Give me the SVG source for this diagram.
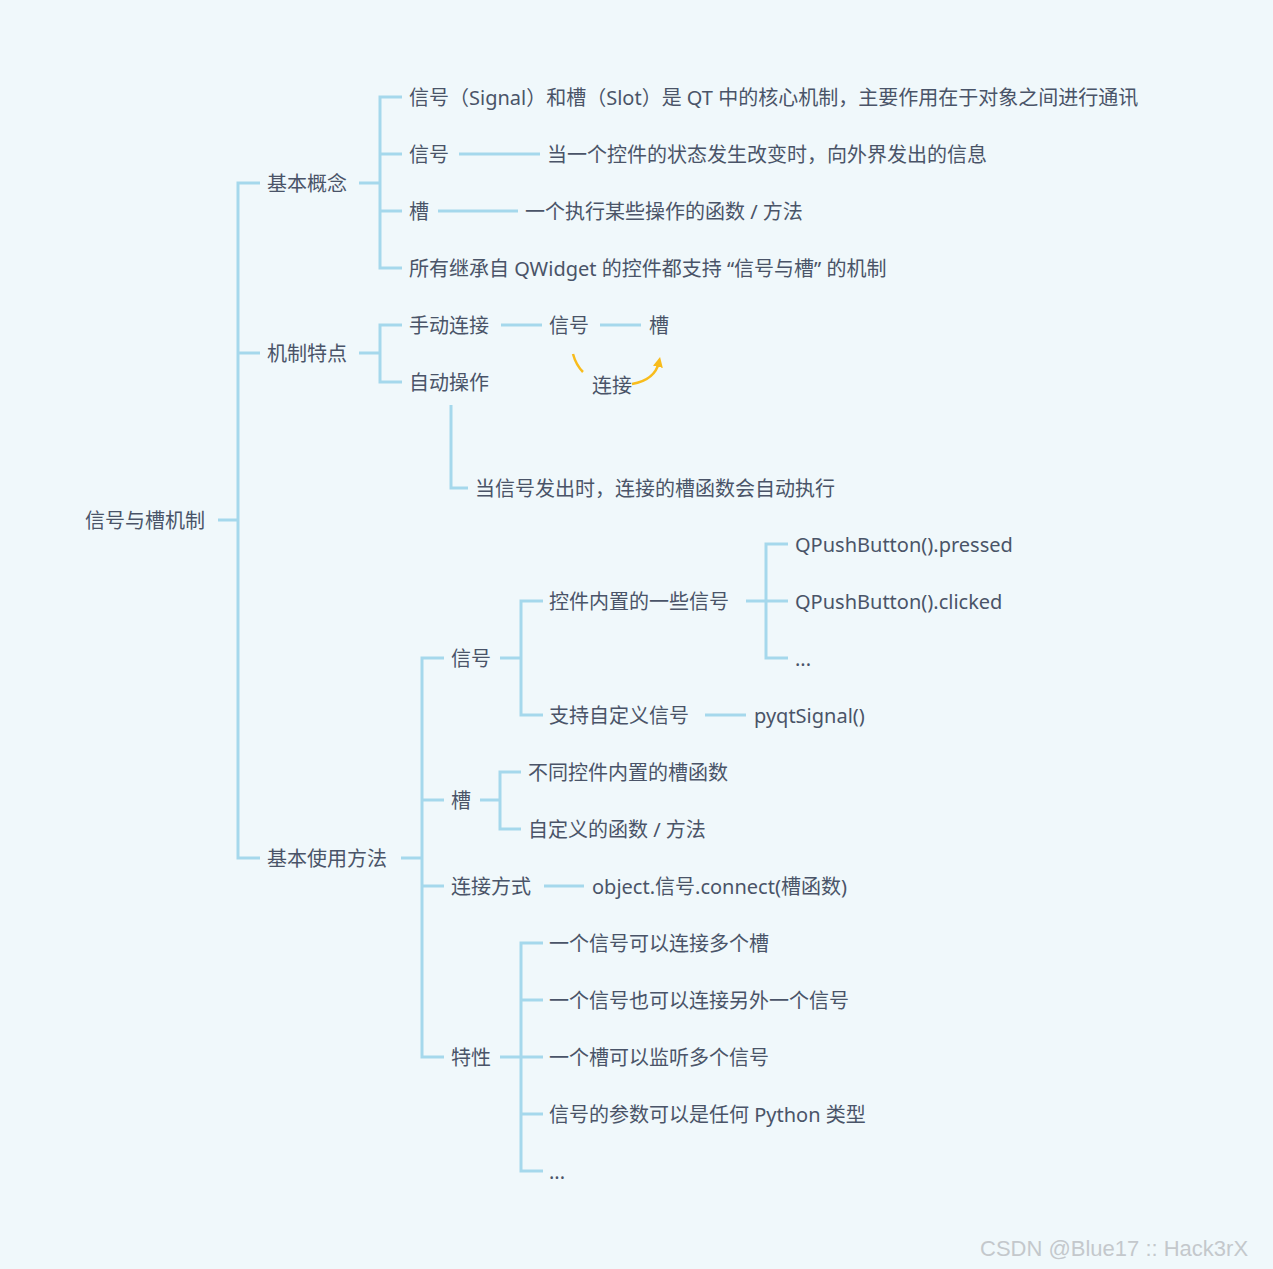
<svg xmlns="http://www.w3.org/2000/svg" width="1273" height="1269" viewBox="0 0 1273 1269">
<defs>
<style>
text{font-family:"Noto Sans","Noto Sans CJK SC",sans-serif;font-size:20px;fill:#4a5468;dominant-baseline:central}
.c path,.c line{stroke:#a5d8ec;stroke-width:3;fill:none}
.y{stroke:#f8bc1c;stroke-width:2.5;fill:none}
</style>
<marker id="ah" viewBox="0 0 10 10" refX="5" refY="5" markerWidth="4" markerHeight="4" orient="auto"><path d="M0,0 L10,5 L0,10 z" fill="#f8bc1c"/></marker>
</defs>
<rect width="1273" height="1269" fill="#f0f8fb"/>
<g class="c" id="connectors">
<line x1="218" y1="520" x2="238" y2="520"/>
<path d="M260,183 H238 V858 H260 M238,353 H260"/>
<line x1="359" y1="183" x2="380" y2="183"/>
<path d="M402,97 H380 V268 H402 M380,154 H402 M380,211 H402"/>
<line x1="459" y1="154" x2="540" y2="154"/>
<line x1="438" y1="211" x2="518" y2="211"/>
<line x1="359" y1="353" x2="380" y2="353"/>
<path d="M402,325 H380 V382 H402"/>
<line x1="501" y1="325" x2="542" y2="325"/>
<line x1="600" y1="325" x2="641" y2="325"/>
<path d="M451,405 V488 H468"/>
<line x1="401" y1="858" x2="422" y2="858"/>
<path d="M444,658 H422 V1057 H444 M422,800 H444 M422,886 H444"/>
<line x1="500" y1="658" x2="521" y2="658"/>
<path d="M543,601 H521 V715 H543"/>
<line x1="746" y1="601" x2="766" y2="601"/>
<path d="M788,544 H766 V658 H788 M766,601 H788"/>
<line x1="705" y1="715" x2="746" y2="715"/>
<line x1="480" y1="800" x2="500" y2="800"/>
<path d="M521,772 H500 V829 H521"/>
<line x1="544" y1="886" x2="584" y2="886"/>
<line x1="500" y1="1057" x2="521" y2="1057"/>
<path d="M543,943 H521 V1171 H543 M521,1000 H543 M521,1057 H543 M521,1114 H543"/>
</g>
<g id="arrow">
<path class="y" d="M573,354 Q576,365 583,372"/>
<path class="y" d="M632,384 Q655,380 659,362" marker-end="url(#ah)"/>
</g>
<g id="root"><text x="85" y="520">信号与槽机制</text></g>
<g id="n1"><text x="267" y="183">基本概念</text></g>
<g id="n1a"><text x="409" y="97">信号（Signal）和槽（Slot）是 QT 中的核心机制，主要作用在于对象之间进行通讯</text></g>
<g id="n1b"><text x="409" y="154">信号</text><text x="547" y="154">当一个控件的状态发生改变时，向外界发出的信息</text></g>
<g id="n1c"><text x="409" y="211">槽</text><text x="525" y="211">一个执行某些操作的函数 / 方法</text></g>
<g id="n1d"><text x="409" y="268">所有继承自 QWidget 的控件都支持 “信号与槽” 的机制</text></g>
<g id="n2"><text x="267" y="353">机制特点</text></g>
<g id="n2a"><text x="409" y="325">手动连接</text><text x="549" y="325">信号</text><text x="649" y="325">槽</text><text x="592" y="385">连接</text></g>
<g id="n2b"><text x="409" y="382">自动操作</text><text x="475" y="488">当信号发出时，连接的槽函数会自动执行</text></g>
<g id="n3"><text x="267" y="858">基本使用方法</text></g>
<g id="n3a"><text x="451" y="658">信号</text>
<text x="549" y="601">控件内置的一些信号</text>
<text x="795" y="544">QPushButton().pressed</text>
<text x="795" y="601">QPushButton().clicked</text>
<text x="795" y="658">...</text>
<text x="549" y="715">支持自定义信号</text>
<text x="754" y="715">pyqtSignal()</text></g>
<g id="n3b"><text x="451" y="800">槽</text><text x="528" y="772">不同控件内置的槽函数</text><text x="528" y="829">自定义的函数 / 方法</text></g>
<g id="n3c"><text x="451" y="886">连接方式</text><text x="592" y="886">object.信号.connect(槽函数)</text></g>
<g id="n3d"><text x="451" y="1057">特性</text>
<text x="549" y="943">一个信号可以连接多个槽</text>
<text x="549" y="1000">一个信号也可以连接另外一个信号</text>
<text x="549" y="1057">一个槽可以监听多个信号</text>
<text x="549" y="1114">信号的参数可以是任何 Python 类型</text>
<text x="549" y="1171">...</text></g>
<text x="980" y="1248" style="fill:#c4c8cc;font-family:'Liberation Sans',sans-serif;font-size:22px">CSDN @Blue17 :: Hack3rX</text>
</svg>
